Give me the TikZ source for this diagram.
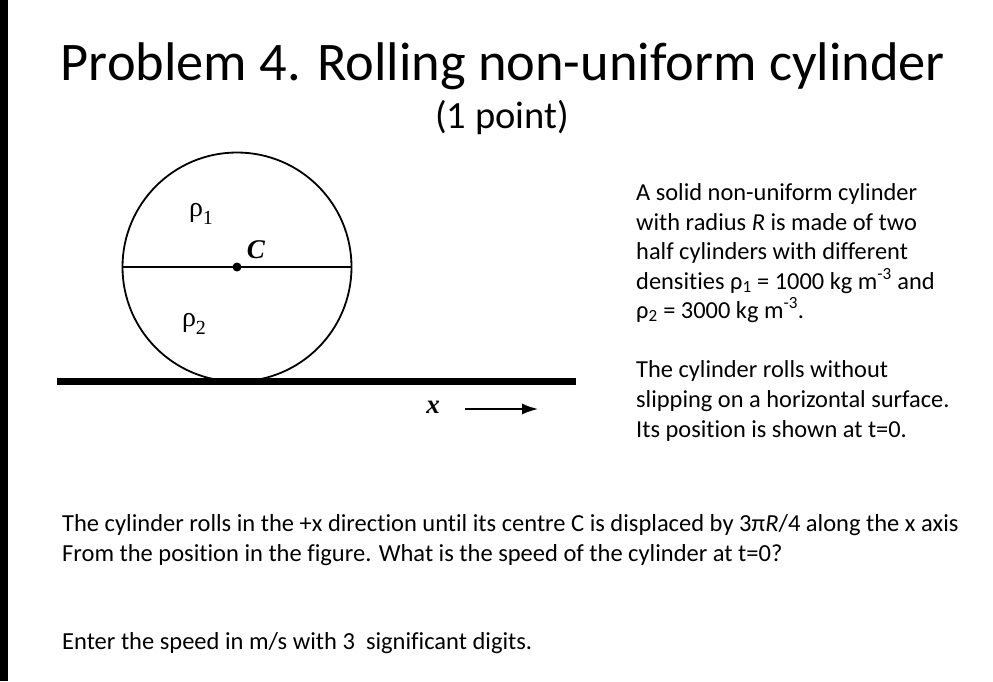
\documentclass[tikz,border=0pt]{standalone}
\usepackage{fontspec}
\usetikzlibrary{arrows.meta}
\setmainfont[Ligatures={NoCommon}]{Carlito}
\newfontfamily\serifx{Liberation Serif}
\begin{document}
\begin{tikzpicture}[x=1pt,y=-1pt,
  txt/.style={anchor=base west,inner sep=0pt,font=\fontsize{24.4}{28}\selectfont},
  btxt/.style={anchor=base west,inner sep=0pt,font=\fontsize{24.5}{28}\selectfont},
  lab/.style={inner sep=0pt,font=\serifx\fontsize{28}{30}\selectfont}]
\useasboundingbox (0,0) rectangle (993,681);
\fill[black] (0,0) rectangle (8,681);
\node[inner sep=0pt,font=\fontsize{54.4}{60}\selectfont] (title) at (503,66) {Problem 4. Rolling non-uniform cylinder};
\node[inner sep=0pt,font=\fontsize{38.5}{44}\selectfont] (pt) at (502,118) {(1 point)};
% figure
\coordinate (C) at (237,267);
\draw[line width=1.8pt] (C) circle (114.5);
\draw[line width=1.5pt] (122.5,267) -- (351.5,267);
\fill (C) circle (4.5);
\node[lab,font=\serifx\bfseries\itshape\fontsize{27}{28}\selectfont] (cl) at (256,250) {C};
\node[lab] (r1) at (201,214) {ρ\raisebox{-0.6ex}{\fontsize{20}{20}\selectfont 1}};
\node[lab] (r2) at (194,324) {ρ\raisebox{-0.6ex}{\fontsize{20}{20}\selectfont 2}};
\draw[line width=7pt] (57,381) -- (576,381);
\node[lab,font=\serifx\bfseries\itshape\fontsize{27}{28}\selectfont] (xl) at (433,407) {x};
\coordinate (a1) at (465,409);
\coordinate (a2) at (538,409);
\draw[line width=1.6pt,-{Latex[length=16pt,width=11pt]}] (a1) -- (a2);
% right text
\node[txt] (t1) at (636,200) {A solid non-uniform cylinder};
\node[txt] (t2) at (636,230) {with radius \textit{R} is made of two};
\node[txt] (t3) at (636,259) {half cylinders with different};
\node[txt] (t4) at (636,289) {densities ρ\textsubscript{1} = 1000 kg m\textsuperscript{-3} and};
\node[txt] (t5) at (636,318) {ρ\textsubscript{2} = 3000 kg m\textsuperscript{-3}.};
\node[txt] (t6) at (636,377) {The cylinder rolls without};
\node[txt] (t7) at (636,407) {slipping on a horizontal surface.};
\node[txt] (t8) at (636,437) {Its position is shown at t=0.};
\node[btxt] (b1) at (62,531) {The cylinder rolls in the +x direction until its centre C is displaced by 3π\textit{R}/4 along the x axis};
\node[btxt] (b2) at (62,561) {From the position in the figure. What is the speed of the cylinder at t=0?};
\node[btxt] (b3) at (62,649) {Enter the speed in m/s with 3~ significant digits.};
\end{tikzpicture}
\end{document}
